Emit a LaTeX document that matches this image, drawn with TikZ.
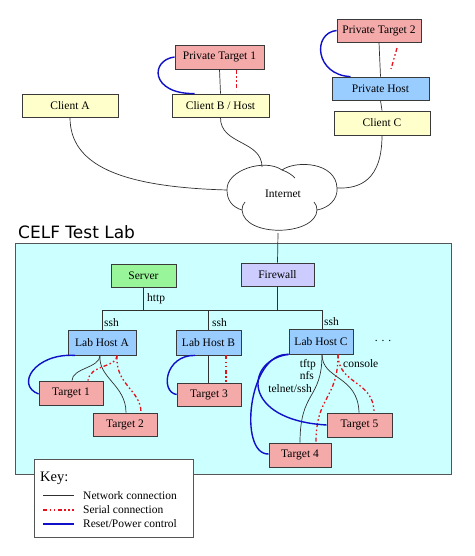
\documentclass[tikz,border=0pt]{standalone}
\usepackage{fontspec}
\setmainfont{Liberation Serif}
\newfontfamily\labfont{DejaVu Sans}
\definecolor{cyel}{HTML}{FFFFCC}
\definecolor{cpink}{HTML}{F5AAAA}
\definecolor{cblue}{HTML}{99CCFF}
\definecolor{cgreen}{HTML}{99F599}
\definecolor{clav}{HTML}{CCCCFF}
\definecolor{clab}{HTML}{CCFFFF}
\definecolor{bord}{HTML}{3A3A3A}
\definecolor{labbord}{HTML}{555555}
\definecolor{netc}{HTML}{303030}
\definecolor{serc}{HTML}{E8101A}
\definecolor{pwrc}{HTML}{1010C8}
\begin{document}
\begin{tikzpicture}[x=1pt,y=-1pt,
  box/.style={draw=bord, line width=0.8pt, inner sep=0pt, font=\fontsize{11.5}{13}\selectfont},
  net/.style={draw=netc, line width=0.7pt},
  ser/.style={draw=serc, line width=1.3pt, dash pattern=on 4pt off 2.5pt on 1.5pt off 2.5pt on 1.5pt off 2.5pt},
  pwr/.style={draw=pwrc, line width=1.4pt},
  lbl/.style={font=\fontsize{11.5}{13}\selectfont, inner sep=0pt}]
\useasboundingbox (0,0) rectangle (474,556);
\fill[white] (0,0) rectangle (474,556);

% lab area
\node[draw=labbord, fill=clab, line width=0.9pt, minimum width=436pt, minimum height=231pt, inner sep=0pt] (lab) at (233,358.5) {};
\node[anchor=base west, inner sep=0pt, font=\labfont\fontsize{17}{20}\selectfont] (title) at (18,238) {CELF Test Lab};

% top nodes
\node[box, fill=cyel, minimum width=96pt, minimum height=23pt] (ClientA) at (70,105.5) {Client A};
\node[box, fill=cpink, minimum width=89pt, minimum height=24pt] (PT1) at (219.5,57) {Private Target 1};
\node[box, fill=cyel, minimum width=97pt, minimum height=23pt] (ClientB) at (220.5,105.5) {Client B / Host};
\node[box, fill=cpink, minimum width=84pt, minimum height=23pt] (PT2) at (379,30.5) {Private Target 2};
\node[box, fill=cblue, minimum width=97pt, minimum height=23pt] (PHost) at (380.5,88.5) {Private Host};
\node[box, fill=cyel, minimum width=96pt, minimum height=24pt] (ClientC) at (382,123) {Client C};

% cloud
\coordinate (cL) at (227,190);
\coordinate (cT) at (262,167);
\coordinate (cR) at (337,188);
\coordinate (cB) at (278,233);
\draw[net] (cL) .. controls (226,170) and (265,158) .. (282,170)
  .. controls (296,160) and (336,162) .. (cR)
  .. controls (338,200) and (328,208) .. (317,210)
  .. controls (316,236) and (244,238) .. (242,210)
  .. controls (232,207) and (227,200) .. (cL);
\draw[net] (282,170) .. controls (288,172) and (292,175) .. (295,178);
\draw[net] (317,210) .. controls (317,207) and (316,204) .. (314,202);
\draw[net] (242,210) .. controls (242,207) and (243,204) .. (245,202);
\node[lbl] (inet) at (283,194) {Internet};

% top connectors
\draw[net] (ClientA.south) .. controls (70,165) and (120,187) .. (cL);
\draw[net] (ClientB.south) .. controls (220,145) and (262,140) .. (cT);
\draw[net] (ClientC.south) .. controls (382,180) and (360,189) .. (cR);
\draw[net] (PT1.south) -- (ClientB.north);
\coordinate (s1a) at (236.5,70);
\coordinate (s1b) at (236.5,91);
\draw[ser] (s1a) -- (s1b);
\draw[pwr] (PT1.west) .. controls (150,60) and (150,94) .. ([xshift=-26pt]ClientB.north);
\draw[net] (PT2.south) -- (PHost.north);
\coordinate (s2a) at (397,48);
\coordinate (s2b) at (391,69);
\draw[ser] (s2a) -- (s2b);
\draw[pwr] (PT2.west) .. controls (312,33) and (315,75) .. ([xshift=-30pt]PHost.north);
\draw[net] (PHost.south) -- (ClientC.north);

% lab nodes
\node[box, fill=cgreen, minimum width=65pt, minimum height=23pt] (Server) at (143.5,275.5) {Server};
\node[box, fill=clav, minimum width=73pt, minimum height=23pt] (Firewall) at (277.5,274.5) {Firewall};
\node[box, fill=cblue, minimum width=68pt, minimum height=25pt] (LabA) at (102,342.5) {Lab Host A};
\node[box, fill=cblue, minimum width=65pt, minimum height=25pt] (LabB) at (208.5,342.5) {Lab Host B};
\node[box, fill=cblue, minimum width=64pt, minimum height=25pt] (LabC) at (321,341.5) {Lab Host C};
\node[box, fill=cpink, minimum width=64pt, minimum height=24pt] (T1) at (71,393) {Target 1};
\node[box, fill=cpink, minimum width=64pt, minimum height=23pt] (T2) at (125,424.5) {Target 2};
\node[box, fill=cpink, minimum width=64pt, minimum height=23pt] (T3) at (209,394.5) {Target 3};
\node[box, fill=cpink, minimum width=65pt, minimum height=24pt] (T5) at (359.5,425) {Target 5};
\node[box, fill=cpink, minimum width=62pt, minimum height=24pt] (T4) at (300,455) {Target 4};

% lab backbone
\coordinate (busL) at (102,310);
\coordinate (busR) at (322,310);
\draw[net] (Firewall.north) -- (cB);
\draw[net] (busL) -- (busR);
\draw[net] (Server.south) -- (Server.south |- busL);
\draw[net] (Firewall.south) -- (Firewall.south |- busL);
\draw[net] (busL) -- (LabA.north);
\draw[net] (LabB.north |- busL) -- (LabB.north);
\draw[net] (busR) -- ([xshift=1pt]LabC.north);
\node[lbl, anchor=base west] (http) at (147,301) {http};
\node[lbl, anchor=base west] (sshA) at (104,326) {ssh};
\node[lbl, anchor=base west] (sshB) at (212,326) {ssh};
\node[lbl, anchor=base west] (sshC) at (324,325) {ssh};
\node[lbl] (dots) at (383,341) {. . .};

% Lab Host A
\draw[pwr] ([xshift=-27pt]LabA.south) .. controls (35,353) and (15,385) .. ([yshift=-1pt]T1.west);
\draw[net] ([xshift=-2pt]LabA.south) .. controls (100,368) and (72,368) .. ([xshift=1pt]T1.north);
\draw[net] ([xshift=-2pt]LabA.south) .. controls (98,378) and (126,385) .. ([xshift=1pt]T2.north);
\draw[ser] ([xshift=15pt]LabA.south) .. controls (117,368) and (90,364) .. ([xshift=17pt]T1.north);
\draw[ser] ([xshift=15pt]LabA.south) .. controls (115,385) and (141,390) .. ([xshift=16pt]T2.north);

% Lab Host B
\draw[pwr] ([xshift=-13.5pt]LabB.south) .. controls (165,355) and (160,392) .. (T3.west);
\draw[net] (LabB.south) -- (LabB.south |- T3.north);
\draw[ser] ([xshift=17.5pt]LabB.south) -- ([xshift=17.5pt]LabB.south |- T3.north);

% Lab Host C
\draw[net] ([xshift=1pt]LabC.south) .. controls (322,400) and (300,390) .. (T4.north);
\draw[net] ([xshift=1pt]LabC.south) .. controls (322,380) and (358,375) .. ([xshift=-0.5pt]T5.north);
\draw[ser] ([xshift=17pt]LabC.south) .. controls (338,400) and (316,395) .. ([xshift=16pt]T4.north);
\draw[ser] ([xshift=17pt]LabC.south) .. controls (338,385) and (374,380) .. ([xshift=14.5pt]T5.north);
\draw[pwr] (LabC.south west) .. controls (248,352) and (238,455) .. ([yshift=1pt]T4.west);
\draw[pwr] (LabC.south west) .. controls (245,360) and (240,420) .. (T5.west);
\node[lbl, anchor=base east] (tftp) at (316,367) {tftp};
\node[lbl, anchor=base east] (nfs) at (314,379) {nfs};
\node[lbl, anchor=base east] (telnet) at (312,392) {telnet/ssh};
\node[lbl, anchor=base west] (console) at (343,367) {console};

% key
\node[draw=labbord, fill=white, line width=0.9pt, minimum width=159pt, minimum height=78pt, inner sep=0pt] (key) at (113.5,498) {};
\node[anchor=base west, inner sep=0pt, font=\fontsize{14.5}{16}\selectfont] (keyt) at (40,481) {Key:};
\coordinate (k1a) at (43,495.5); \coordinate (k1b) at (74,495.5);
\coordinate (k2a) at (43,510); \coordinate (k2b) at (74,510);
\coordinate (k3a) at (43,524); \coordinate (k3b) at (74,524);
\draw[net] (k1a) -- (k1b);
\draw[ser] (k2a) -- (k2b);
\draw[pwr] (k3a) -- (k3b);
\node[lbl, anchor=west] (kn) at (83,495.5) {Network connection};
\node[lbl, anchor=west] (ks) at (83,510) {Serial connection};
\node[lbl, anchor=west] (kp) at (83,524) {Reset/Power control};
\end{tikzpicture}
\end{document}
